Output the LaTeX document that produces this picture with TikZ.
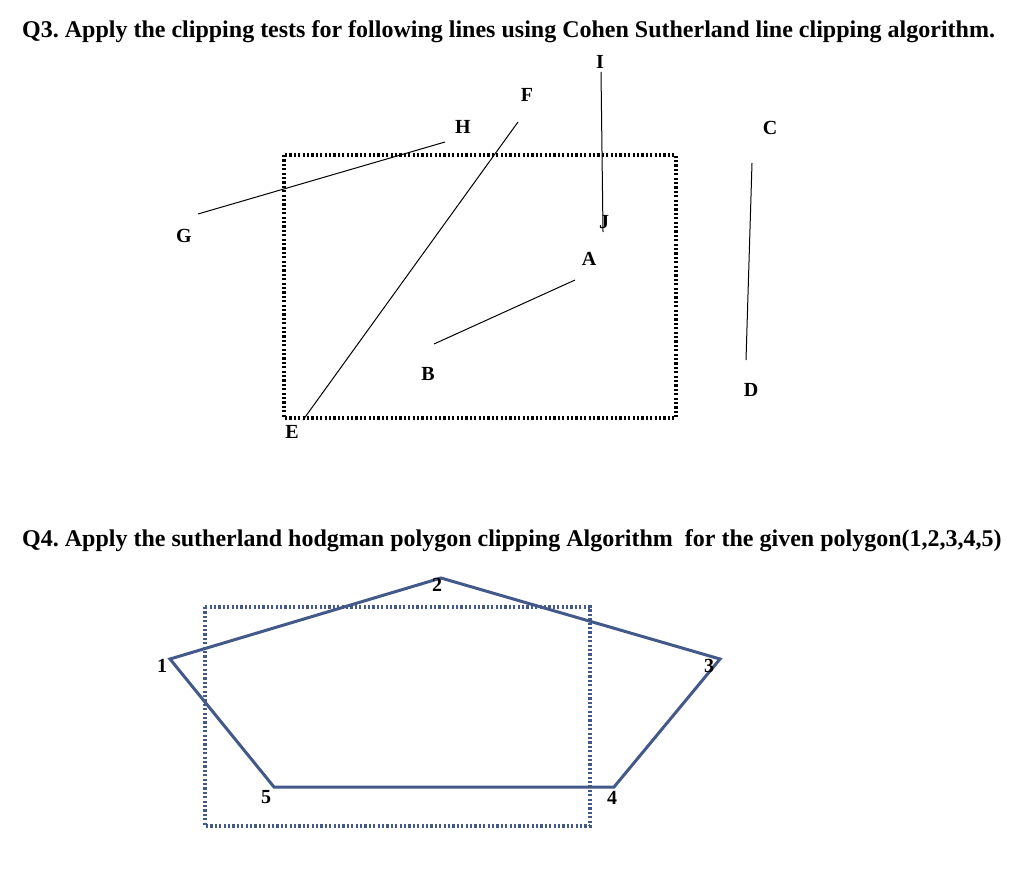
\documentclass[tikz,border=0pt]{standalone}
\usepackage{fontspec}
\setmainfont{Liberation Serif}
\begin{document}
\begin{tikzpicture}[x=1pt,y=-1pt,
  lbl/.style={font=\bfseries\fontsize{20}{20}\selectfont,inner sep=0pt},
  ttl/.style={font=\bfseries\fontsize{24}{24}\selectfont,inner sep=0pt,anchor=west},
  ln/.style={line width=1pt},
  dotbox/.style={line width=3.5pt,dash pattern=on 2.2pt off 2.2pt}]
\definecolor{pb}{HTML}{42598A}
\useasboundingbox[fill=white] (0,0) rectangle (1024,889);
\node[ttl] (t3) at (22,32) {Q3.\ Apply the clipping tests for following lines using Cohen Sutherland line clipping algorithm.};
\node[ttl] (t4) at (22,541) {Q4.\ Apply the sutherland hodgman polygon clipping Algorithm\ \ for the given polygon(1,2,3,4,5)};
\draw[dotbox] (284,155) rectangle (676,418);
\coordinate (g) at (198,214); \coordinate (h) at (445,142);
\coordinate (e) at (303,420); \coordinate (f) at (518,122);
\coordinate (i) at (601,72); \coordinate (j) at (603,232);
\coordinate (a) at (575,280); \coordinate (b) at (434,344);
\coordinate (c) at (752,163); \coordinate (d) at (746,360);
\draw[ln] (g)--(h); \draw[ln] (e)--(f); \draw[ln] (i)--(j);
\draw[ln] (a)--(b); \draw[ln] (c)--(d);
\node[lbl] (G) at (184,236) {G};
\node[lbl] (H) at (463,127) {H};
\node[lbl] (F) at (527,95) {F};
\node[lbl] (E) at (292,432) {E};
\node[lbl] (I) at (600,62) {I};
\node[lbl] (J) at (604,222) {J};
\node[lbl] (A) at (589,259) {A};
\node[lbl] (B) at (428,374) {B};
\node[lbl] (C) at (770,128) {C};
\node[lbl] (D) at (751,390) {D};
\draw[pb,dotbox] (205,607) rectangle (590,826);
\coordinate (p1) at (170,659); \coordinate (p2) at (441,578);
\coordinate (p3) at (720,659); \coordinate (p4) at (614,787);
\coordinate (p5) at (274,787);
\draw[pb,line width=3pt,line join=miter] (p1)--(p2)--(p3)--(p4)--(p5)--cycle;
\node[lbl] (n1) at (162,666) {1};
\node[lbl] (n2) at (437,585) {2};
\node[lbl] (n3) at (709,666) {3};
\node[lbl] (n4) at (612,798) {4};
\node[lbl] (n5) at (266,797) {5};
\end{tikzpicture}
\end{document}
